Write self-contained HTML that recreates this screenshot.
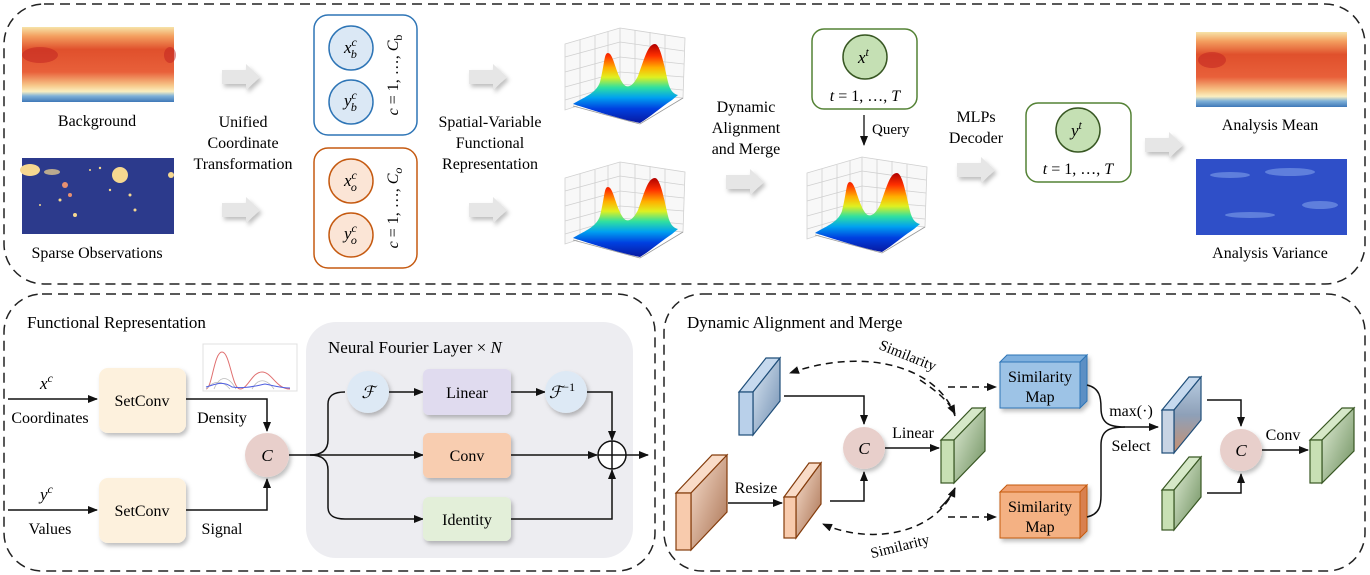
<!DOCTYPE html>
<html><head><meta charset="utf-8"><style>
html,body{margin:0;padding:0;background:#fff;}
svg{display:block;font-family:"Liberation Serif",serif;}
</style></head><body>
<svg width="1370" height="575" viewBox="0 0 1370 575" xmlns="http://www.w3.org/2000/svg">
<defs>
<linearGradient id="jet" x1="0" y1="0" x2="0" y2="1">
<stop offset="0" stop-color="#b00000"/><stop offset="0.15" stop-color="#ff3000"/><stop offset="0.3" stop-color="#ffb000"/><stop offset="0.42" stop-color="#e0f020"/><stop offset="0.55" stop-color="#30e0a0"/><stop offset="0.68" stop-color="#00a0f0"/><stop offset="0.82" stop-color="#0040e0"/><stop offset="1" stop-color="#0818a0"/></linearGradient>
<linearGradient id="mean" x1="0" y1="0" x2="0" y2="1">
<stop offset="0" stop-color="#f6e3a8"/><stop offset="0.12" stop-color="#f4a060"/><stop offset="0.3" stop-color="#e0502c"/><stop offset="0.6" stop-color="#e8603a"/><stop offset="0.78" stop-color="#f7c88a"/><stop offset="0.86" stop-color="#fbefc0"/><stop offset="0.92" stop-color="#7fb1d8"/><stop offset="1" stop-color="#3f78b8"/></linearGradient>
<radialGradient id="land" cx="0.5" cy="0.5" r="0.5"><stop offset="0" stop-color="#f8e090"/><stop offset="1" stop-color="#f8e090" stop-opacity="0"/></radialGradient>
<linearGradient id="sb" x1="0" y1="0" x2="1" y2="1"><stop offset="0" stop-color="#dce8f4"/><stop offset="1" stop-color="#6f8db0"/></linearGradient>
<linearGradient id="sg" x1="0" y1="0" x2="1" y2="1"><stop offset="0" stop-color="#e4f0da"/><stop offset="1" stop-color="#6a8c5a"/></linearGradient>
<linearGradient id="so" x1="0" y1="0" x2="1" y2="1"><stop offset="0" stop-color="#f9e0cf"/><stop offset="1" stop-color="#a87050"/></linearGradient>
<linearGradient id="sm" x1="0" y1="0" x2="0" y2="1"><stop offset="0" stop-color="#b8cde2"/><stop offset="0.5" stop-color="#8ea0b8"/><stop offset="1" stop-color="#c89070"/></linearGradient>
<marker id="ar" markerWidth="10" markerHeight="8" refX="9" refY="4" orient="auto" markerUnits="userSpaceOnUse"><path d="M0,0 L10,4 L0,8 Z" fill="#111"/></marker>
<filter id="sh" x="-20%" y="-20%" width="150%" height="150%"><feDropShadow dx="2" dy="3" stdDeviation="2" flood-color="#000" flood-opacity="0.25"/></filter>
<g id="garrow"><path d="M0,-7 L24,-7 L24,-13 L38,0 L24,13 L24,7 L0,7 Z" fill="#e6e6e6" filter="url(#sh)"/></g>
<g id="plot">
<g fill="none" stroke="#d0d0d0" stroke-width="0.8">
<path d="M5,22 L60,6 L125,16 L123,76 L60,70 L5,88 Z" fill="#f8f8f8"/>
<path d="M60,6 L60,70"/>
<path d="M5,35 L60,20 L124,29 M5,50 L60,35 L124,42 M5,65 L60,50 L124,55 M5,78 L60,62 L123,68"/>
<path d="M20,18 L20,84 M35,14 L35,79 M48,10 L48,74 M75,8 L75,71 M90,10 L90,72 M105,13 L105,74"/>
<path d="M13,84 L80,102 L123,76" stroke="#999"/>
</g>
<path d="M13,82 C22,76 36,72 40,60 C45,40 44,31 48,31 C53,31 55,48 62,60 C66,67 72,66 78,54 C85,35 88,22 95,22 C100,22 104,42 108,60 C110,68 113,72 118,73 L112,78 C100,86 90,95 80,101 C60,97 35,89 13,82 Z" fill="url(#jet)"/>
</g>
</defs>

<!-- Borders -->
<rect x="4" y="4" width="1361" height="280" rx="40" fill="none" stroke="#222" stroke-width="1.5" stroke-dasharray="10,6"/>
<rect x="4" y="294" width="651" height="277" rx="38" fill="none" stroke="#222" stroke-width="1.5" stroke-dasharray="10,6"/>
<rect x="664" y="294" width="701" height="277" rx="38" fill="none" stroke="#222" stroke-width="1.5" stroke-dasharray="10,6"/>

<!-- TOP -->
<rect x="22" y="27" width="152" height="75" fill="url(#mean)"/>
<ellipse cx="40" cy="55" rx="18" ry="8" fill="#c02020" opacity="0.5"/>
<ellipse cx="170" cy="55" rx="6" ry="8" fill="#c02020" opacity="0.5"/>
<text x="97" y="126" font-size="16" text-anchor="middle">Background</text>
<rect x="22" y="158" width="152" height="76" fill="#2c3a8c"/>
<g fill="#f6d890">
<ellipse cx="30" cy="170" rx="10" ry="6"/><ellipse cx="120" cy="175" rx="8" ry="8"/><ellipse cx="52" cy="172" rx="8" ry="3" opacity="0.7"/>
<circle cx="65" cy="185" r="3" fill="#e89070"/><circle cx="70" cy="195" r="2" fill="#e89070"/><circle cx="60" cy="200" r="1.5"/><circle cx="75" cy="215" r="2"/>
<circle cx="100" cy="168" r="1.2"/><circle cx="110" cy="190" r="1.2"/><circle cx="130" cy="195" r="1.5"/><circle cx="135" cy="210" r="1.5"/><circle cx="90" cy="170" r="1"/><circle cx="40" cy="205" r="1"/><circle cx="171" cy="175" r="3"/>
</g>
<text x="97" y="258" font-size="16" text-anchor="middle">Sparse Observations</text>

<use href="#garrow" x="222" y="77"/>
<use href="#garrow" x="222" y="210"/>
<g font-size="16" text-anchor="middle"><text x="243" y="127">Unified</text><text x="243" y="148">Coordinate</text><text x="243" y="169">Transformation</text></g>

<rect x="314" y="15" width="103" height="120" rx="14" fill="#fff" stroke="#2e75b6" stroke-width="1.5"/>
<circle cx="351" cy="48" r="22" fill="#dbe8f5" stroke="#2e75b6" stroke-width="1.5"/>
<circle cx="351" cy="102" r="22" fill="#dbe8f5" stroke="#2e75b6" stroke-width="1.5"/>
<text x="344" y="53" font-size="17" font-style="italic">x<tspan font-size="12" dy="-7">c</tspan><tspan font-size="12" dx="-6" dy="12">b</tspan></text>
<text x="344" y="106" font-size="17" font-style="italic">y<tspan font-size="12" dy="-7">c</tspan><tspan font-size="12" dx="-6" dy="12">b</tspan></text>
<text transform="translate(398,75) rotate(-90)" font-size="16" text-anchor="middle"><tspan font-style="italic">c</tspan> = 1, …, <tspan font-style="italic">C</tspan><tspan font-size="12" dy="4">b</tspan></text>

<rect x="314" y="148" width="103" height="120" rx="14" fill="#fff" stroke="#c55a11" stroke-width="1.5"/>
<circle cx="351" cy="181" r="22" fill="#fbe5d6" stroke="#c55a11" stroke-width="1.5"/>
<circle cx="351" cy="235" r="22" fill="#fbe5d6" stroke="#c55a11" stroke-width="1.5"/>
<text x="344" y="186" font-size="17" font-style="italic">x<tspan font-size="12" dy="-7">c</tspan><tspan font-size="12" dx="-6" dy="12">o</tspan></text>
<text x="344" y="239" font-size="17" font-style="italic">y<tspan font-size="12" dy="-7">c</tspan><tspan font-size="12" dx="-6" dy="12">o</tspan></text>
<text transform="translate(398,208) rotate(-90)" font-size="16" text-anchor="middle"><tspan font-style="italic">c</tspan> = 1, …, <tspan font-style="italic">C</tspan><tspan font-size="12" dy="4" font-style="italic">o</tspan></text>

<use href="#garrow" x="469" y="77"/>
<use href="#garrow" x="469" y="210"/>
<g font-size="16" text-anchor="middle"><text x="490" y="127">Spatial-Variable</text><text x="490" y="148">Functional</text><text x="490" y="169">Representation</text></g>

<use href="#plot" x="560" y="22"/>
<use href="#plot" x="560" y="156"/>

<g font-size="16" text-anchor="middle"><text x="746" y="112">Dynamic</text><text x="746" y="133">Alignment</text><text x="746" y="154">and Merge</text></g>
<use href="#garrow" x="726" y="182"/>

<rect x="812" y="29" width="105" height="80" rx="12" fill="#fff" stroke="#548235" stroke-width="1.5"/>
<circle cx="865" cy="57" r="22" fill="#c5e0b4" stroke="#385723" stroke-width="1.5"/>
<text x="858" y="63" font-size="17" font-style="italic">x<tspan font-size="12" dy="-7">t</tspan></text>
<text x="865" y="101" font-size="16" text-anchor="middle"><tspan font-style="italic">t</tspan> = 1, …, <tspan font-style="italic">T</tspan></text>
<line x1="864" y1="115" x2="864" y2="145" stroke="#111" stroke-width="1.3" marker-end="url(#ar)"/>
<text x="872" y="134" font-size="15">Query</text>
<use href="#plot" x="802" y="151"/>

<g font-size="16" text-anchor="middle"><text x="976" y="122">MLPs</text><text x="976" y="143">Decoder</text></g>
<use href="#garrow" x="957" y="170"/>

<rect x="1026" y="103" width="105" height="79" rx="12" fill="#fff" stroke="#548235" stroke-width="1.5"/>
<circle cx="1078" cy="130" r="22" fill="#c5e0b4" stroke="#385723" stroke-width="1.5"/>
<text x="1071" y="136" font-size="17" font-style="italic">y<tspan font-size="12" dy="-7">t</tspan></text>
<text x="1078" y="174" font-size="16" text-anchor="middle"><tspan font-style="italic">t</tspan> = 1, …, <tspan font-style="italic">T</tspan></text>
<use href="#garrow" x="1145" y="145"/>

<rect x="1196" y="32" width="151" height="75" fill="url(#mean)"/>
<ellipse cx="1212" cy="60" rx="14" ry="8" fill="#c02020" opacity="0.5"/>
<text x="1270" y="130" font-size="16" text-anchor="middle">Analysis  Mean</text>
<rect x="1196" y="159" width="151" height="76" fill="#2f4fc8"/>
<g fill="#8fb0f0" opacity="0.5"><ellipse cx="1230" cy="175" rx="20" ry="3"/><ellipse cx="1290" cy="172" rx="25" ry="4"/><ellipse cx="1250" cy="215" rx="25" ry="3"/><ellipse cx="1320" cy="205" rx="18" ry="4"/></g>
<text x="1270" y="258" font-size="16" text-anchor="middle">Analysis  Variance</text>

<!-- BOTTOM LEFT -->
<text x="27" y="328" font-size="17">Functional  Representation</text>
<text x="40" y="389" font-size="17" font-style="italic">x<tspan font-size="12" dy="-7">c</tspan></text>
<line x1="8" y1="399" x2="97" y2="399" stroke="#111" stroke-width="1.5" marker-end="url(#ar)"/>
<text x="50" y="423" font-size="16" text-anchor="middle">Coordinates</text>
<rect x="99" y="368" width="87" height="65" rx="9" fill="#fdf1dd" filter="url(#sh)"/>
<text x="142" y="406" font-size="16" text-anchor="middle">SetConv</text>
<text x="222" y="423" font-size="16" text-anchor="middle">Density</text>
<polyline points="186,399 267,399 267,431" fill="none" stroke="#111" stroke-width="1.5" marker-end="url(#ar)"/>

<rect x="203" y="344" width="94" height="47" fill="#fff" stroke="#e0e0e0"/>
<path d="M206,389 C212,389 214,352 222,352 C230,352 232,389 240,389 C248,389 252,372 262,372 C272,372 276,389 290,389" fill="none" stroke="#e07070" stroke-width="1"/>
<path d="M206,389 C214,380 222,380 230,389 M214,389 C220,375 228,375 236,389 M252,389 C258,378 266,378 274,389" fill="none" stroke="#bbb" stroke-width="0.8"/>
<path d="M206,387 C214,385 222,380 232,387 C245,389 255,386 265,384 C275,386 282,388 290,388" fill="none" stroke="#5060e0" stroke-width="1"/>

<circle cx="267" cy="455" r="22" fill="#e8cfcb" filter="url(#sh)"/>
<text x="267" y="461" font-size="17" font-style="italic" text-anchor="middle">C</text>

<text x="40" y="500" font-size="17" font-style="italic">y<tspan font-size="12" dy="-7">c</tspan></text>
<line x1="8" y1="510" x2="97" y2="510" stroke="#111" stroke-width="1.5" marker-end="url(#ar)"/>
<text x="50" y="534" font-size="16" text-anchor="middle">Values</text>
<rect x="99" y="478" width="87" height="65" rx="9" fill="#fdf1dd" filter="url(#sh)"/>
<text x="142" y="516" font-size="16" text-anchor="middle">SetConv</text>
<text x="222" y="534" font-size="16" text-anchor="middle">Signal</text>
<polyline points="186,510 267,510 267,479" fill="none" stroke="#111" stroke-width="1.5" marker-end="url(#ar)"/>

<rect x="306" y="322" width="327" height="236" rx="30" fill="#ededf1"/>
<text x="328" y="353" font-size="17">Neural  Fourier  Layer × <tspan font-style="italic">N</tspan></text>
<path d="M289,455 L423,455" fill="none" stroke="#111" stroke-width="1.5" marker-end="url(#ar)"/>
<path d="M310,455 C322,455 328,450 328,440 L328,404 C328,396 333,392 345,392" fill="none" stroke="#111" stroke-width="1.5"/>
<path d="M310,455 C322,455 328,460 328,470 L328,507 C328,515 333,519 345,519 L423,519" fill="none" stroke="#111" stroke-width="1.5" marker-end="url(#ar)"/>
<circle cx="368" cy="392" r="21" fill="#dde9f5" filter="url(#sh)"/>
<text x="368" y="398" font-size="17" font-style="italic" text-anchor="middle">ℱ</text>
<line x1="389" y1="392" x2="423" y2="392" stroke="#111" stroke-width="1.5" marker-end="url(#ar)"/>
<rect x="423" y="369" width="88" height="46" rx="6" fill="#e0dbef" filter="url(#sh)"/>
<text x="467" y="398" font-size="16" text-anchor="middle">Linear</text>
<line x1="511" y1="392" x2="545" y2="392" stroke="#111" stroke-width="1.5" marker-end="url(#ar)"/>
<circle cx="566" cy="392" r="21" fill="#dde9f5" filter="url(#sh)"/>
<text x="562" y="398" font-size="17" font-style="italic" text-anchor="middle">ℱ<tspan font-style="normal" font-size="12" dy="-7">−1</tspan></text>
<rect x="423" y="433" width="88" height="45" rx="6" fill="#f8cdb0" filter="url(#sh)"/>
<text x="467" y="461" font-size="16" text-anchor="middle">Conv</text>
<rect x="423" y="497" width="88" height="44" rx="6" fill="#e3efd9" filter="url(#sh)"/>
<text x="467" y="525" font-size="16" text-anchor="middle">Identity</text>
<polyline points="587,392 612,392 612,440" fill="none" stroke="#111" stroke-width="1.5" marker-end="url(#ar)"/>
<line x1="511" y1="455" x2="597" y2="455" stroke="#111" stroke-width="1.5" marker-end="url(#ar)"/>
<polyline points="511,519 612,519 612,470" fill="none" stroke="#111" stroke-width="1.5" marker-end="url(#ar)"/>
<circle cx="612" cy="455" r="14" fill="#fff" stroke="#111" stroke-width="1.5"/>
<path d="M598,455 L626,455 M612,441 L612,469" stroke="#111" stroke-width="1.5"/>
<line x1="626" y1="455" x2="648" y2="455" stroke="#111" stroke-width="1.5" marker-end="url(#ar)"/>

<!-- BOTTOM RIGHT -->
<text x="687" y="328" font-size="17">Dynamic  Alignment  and Merge</text>
<g stroke-width="1.2">
<!-- blue slab -->
<polygon points="739,392 766,358 780,358 753,392" fill="#c6d9ee" stroke="#1f4e79"/>
<polygon points="753,392 780,358 780,401 753,435" fill="url(#sb)" stroke="#1f4e79"/>
<rect x="739" y="392" width="14" height="43" fill="#b9d0ea" stroke="#1f4e79"/>
<!-- green mid -->
<polygon points="941,440 972,408 985,408 954,440" fill="#d6e8c8" stroke="#385723"/>
<polygon points="954,440 985,408 985,451 954,483" fill="url(#sg)" stroke="#385723"/>
<rect x="941" y="440" width="13" height="43" fill="#c8e0b4" stroke="#385723"/>
<!-- orange big -->
<polygon points="676,493 712,455 727,455 691,493" fill="#f9dcc8" stroke="#843c0c"/>
<polygon points="691,493 727,455 727,512 691,550" fill="url(#so)" stroke="#843c0c"/>
<rect x="676" y="493" width="15" height="57" fill="#f8cbad" stroke="#843c0c"/>
<!-- orange small -->
<polygon points="784,497 809,463 821,463 796,497" fill="#f9dcc8" stroke="#843c0c"/>
<polygon points="796,497 821,463 821,504 796,538" fill="url(#so)" stroke="#843c0c"/>
<rect x="784" y="497" width="12" height="41" fill="#f8cbad" stroke="#843c0c"/>
<!-- mixed -->
<polygon points="1162,410 1189,377 1201,377 1174,410" fill="#c6d9ee" stroke="#1f4e79"/>
<polygon points="1174,410 1201,377 1201,420 1174,453" fill="url(#sm)" stroke="#1f4e79"/>
<rect x="1162" y="410" width="12" height="43" fill="#c8d4e4" stroke="#1f4e79"/>
<!-- green low -->
<polygon points="1162,490 1189,457 1201,457 1174,490" fill="#d6e8c8" stroke="#385723"/>
<polygon points="1174,490 1201,457 1201,497 1174,530" fill="url(#sg)" stroke="#385723"/>
<rect x="1162" y="490" width="12" height="40" fill="#c8e0b4" stroke="#385723"/>
<!-- green final -->
<polygon points="1310,440 1342,408 1354,408 1322,440" fill="#d6e8c8" stroke="#385723"/>
<polygon points="1322,440 1354,408 1354,451 1322,483" fill="url(#sg)" stroke="#385723"/>
<rect x="1310" y="440" width="12" height="43" fill="#c8e0b4" stroke="#385723"/>
</g>

<polyline points="784,396 864,396 864,424" fill="none" stroke="#111" stroke-width="1.5" marker-end="url(#ar)"/>
<circle cx="864" cy="448" r="21" fill="#e8cfcb" filter="url(#sh)"/>
<text x="864" y="454" font-size="17" font-style="italic" text-anchor="middle">C</text>
<polyline points="830,501 864,501 864,472" fill="none" stroke="#111" stroke-width="1.5" marker-end="url(#ar)"/>
<line x1="885" y1="448" x2="939" y2="448" stroke="#111" stroke-width="1.5" marker-end="url(#ar)"/>
<text x="913" y="438" font-size="16" text-anchor="middle">Linear</text>
<line x1="728" y1="503" x2="782" y2="503" stroke="#111" stroke-width="1.5" marker-end="url(#ar)"/>
<text x="756" y="493" font-size="16" text-anchor="middle">Resize</text>

<path d="M955,416 C940,370 870,345 790,373" fill="none" stroke="#111" stroke-width="1.5" stroke-dasharray="7,5" marker-end="url(#ar)"/>
<path d="M920,380 C935,390 948,400 955,414" fill="none" stroke="#111" stroke-width="1.5" marker-end="url(#ar)" stroke-dasharray="7,5"/>
<text transform="translate(906,360) rotate(22)" font-size="15" text-anchor="middle">Similarity</text>
<path d="M955,488 C935,535 870,545 823,524" fill="none" stroke="#111" stroke-width="1.5" stroke-dasharray="7,5" marker-end="url(#ar)"/>
<path d="M940,508 C948,500 952,495 955,488" fill="none" stroke="#111" stroke-width="1.5" marker-end="url(#ar)"/>
<text transform="translate(901,551) rotate(-14)" font-size="15" text-anchor="middle">Similarity</text>
<line x1="948" y1="387" x2="996" y2="387" stroke="#111" stroke-width="1.5" stroke-dasharray="7,5" marker-end="url(#ar)"/>
<line x1="948" y1="517" x2="996" y2="517" stroke="#111" stroke-width="1.5" stroke-dasharray="7,5" marker-end="url(#ar)"/>

<g filter="url(#sh)">
<polygon points="1000,362 1007,355 1087,355 1080,362" fill="#7fb0de" stroke="#2e75b6"/>
<polygon points="1080,362 1087,355 1087,401 1080,408" fill="#5b8fc4" stroke="#2e75b6"/>
<rect x="1000" y="362" width="80" height="46" fill="#9dc3e6" stroke="#2e75b6"/>
<polygon points="1000,492 1007,485 1087,485 1080,492" fill="#f0a070" stroke="#c55a11"/>
<polygon points="1080,492 1087,485 1087,531 1080,538" fill="#d88050" stroke="#c55a11"/>
<rect x="1000" y="492" width="80" height="46" fill="#f4b183" stroke="#c55a11"/>
</g>
<g font-size="16" text-anchor="middle"><text x="1040" y="382">Similarity</text><text x="1040" y="402">Map</text><text x="1040" y="512">Similarity</text><text x="1040" y="532">Map</text></g>

<path d="M1087,385 C1100,388 1101,398 1101,408 C1101,424 1110,427 1125,427 L1158,427" fill="none" stroke="#111" stroke-width="1.5" marker-end="url(#ar)"/>
<path d="M1087,517 C1100,514 1101,505 1101,495 L1101,445 C1101,430 1110,427 1125,427" fill="none" stroke="#111" stroke-width="1.5"/>
<text x="1131" y="416" font-size="16" text-anchor="middle">max(·)</text>
<text x="1131" y="451" font-size="16" text-anchor="middle">Select</text>

<polyline points="1207,400 1241,400 1241,426" fill="none" stroke="#111" stroke-width="1.5" marker-end="url(#ar)"/>
<circle cx="1241" cy="450" r="21" fill="#e8cfcb" filter="url(#sh)"/>
<text x="1241" y="456" font-size="17" font-style="italic" text-anchor="middle">C</text>
<polyline points="1207,493 1241,493 1241,474" fill="none" stroke="#111" stroke-width="1.5" marker-end="url(#ar)"/>
<line x1="1262" y1="450" x2="1308" y2="450" stroke="#111" stroke-width="1.5" marker-end="url(#ar)"/>
<text x="1283" y="440" font-size="16" text-anchor="middle">Conv</text>
</svg>
</body></html>
